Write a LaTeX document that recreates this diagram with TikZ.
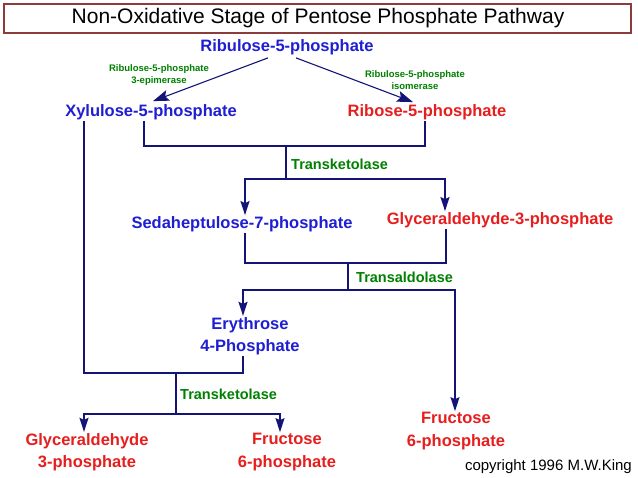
\documentclass[tikz,border=0pt]{standalone}
\usepackage{fontspec}
\setmainfont{Liberation Sans}
\usepackage{tikz}
\usetikzlibrary{arrows.meta}
\definecolor{chemblue}{RGB}{30, 30, 210}
\definecolor{chemred}{RGB}{230, 30, 30}
\definecolor{enzgreen}{RGB}{0, 128, 0}
\definecolor{linknavy}{RGB}{20, 20, 120}
\definecolor{titlebox}{RGB}{140, 60, 60}

\begin{document}
\begin{tikzpicture}[x=1pt, y=-1pt, >={Stealth[length=14pt, width=9pt, inset=2pt]},
  bluelbl/.style={text=chemblue, font=\fontsize{16.5}{22.5}\selectfont\bfseries, align=center, inner sep=1pt},
  redlbl/.style={text=chemred, font=\fontsize{16.5}{22.5}\selectfont\bfseries, align=center, inner sep=1pt},
  enzlbl/.style={text=enzgreen, font=\fontsize{14.5}{17}\selectfont\bfseries, anchor=west, inner sep=0pt},
  smallenz/.style={text=enzgreen, font=\fontsize{9.5}{12.5}\selectfont\bfseries, align=center, inner sep=0pt},
  link/.style={draw=linknavy, line width=1.6pt},
  slant/.style={draw=linknavy, line width=1.1pt, -{Stealth[length=16pt, width=11pt, inset=3pt]}}]
  \useasboundingbox (0,0) rectangle (638,478);
  \fill[white] (0,0) rectangle (638,478);

  % Title
  \draw[titlebox, line width=1.3pt] (4,4) rectangle (631,33);
  \node[font=\fontsize{21}{24}\selectfont] (title) at (318,18) {Non-Oxidative Stage of Pentose Phosphate Pathway};

  % Metabolites
  \node[bluelbl] (rib5p) at (287,47) {Ribulose-5-phosphate};
  \node[bluelbl] (xyl5p) at (151,112) {Xylulose-5-phosphate};
  \node[redlbl] (ribose5p) at (427,112) {Ribose-5-phosphate};
  \node[bluelbl] (sed7p) at (242,224) {Sedaheptulose-7-phosphate};
  \node[redlbl] (gap1) at (500,220) {Glyceraldehyde-3-phosphate};
  \node[bluelbl] (ery4p) at (250,336) {Erythrose\\4-Phosphate};
  \node[redlbl] (gap2) at (87,452) {Glyceraldehyde\\3-phosphate};
  \node[redlbl] (fru6pA) at (287,452) {Fructose\\6-phosphate};
  \node[redlbl] (fru6pB) at (456,431) {Fructose\\6-phosphate};

  % Enzymes
  \node[smallenz] (epim) at (159,75) {Ribulose-5-phosphate\\3-epimerase};
  \node[smallenz] (isom) at (415,80) {Ribulose-5-phosphate\\isomerase};
  \node[enzlbl] (tkA) at (291,164) {Transketolase};
  \node[enzlbl] (tald) at (356,277) {Transaldolase};
  \node[enzlbl] (tkB) at (180,394) {Transketolase};

  % Junctions
  \coordinate (jtkA) at (286,146);
  \coordinate (jtkAb) at (286,179);
  \coordinate (jtald) at (348,263);
  \coordinate (jtaldb) at (348,290);
  \coordinate (jtkB) at (176,373);
  \coordinate (jtkBb) at (176,414);

  % Ribulose split
  \draw[slant] ([xshift=-19pt, yshift=-2pt]rib5p.south) -- ([xshift=2pt, yshift=2pt]xyl5p.north);
  \draw[slant] ([xshift=9pt, yshift=-2pt]rib5p.south) -- ([xshift=-14pt, yshift=1pt]ribose5p.north);

  % First transketolase
  \draw[link] ([xshift=-7pt]xyl5p.south) |- (jtkA) -| ([xshift=-2pt]ribose5p.south);
  \draw[link] (jtkA) -- (jtkAb);
  \draw[link, ->] (jtkAb) -| ([xshift=3pt]sed7p.north);
  \draw[link, ->] (jtkAb) -| ([xshift=-55pt]gap1.north);

  % Transaldolase
  \draw[link] ([xshift=3pt]sed7p.south) |- (jtald) -| ([xshift=-54pt]gap1.south);
  \draw[link] (jtald) -- (jtaldb);
  \draw[link, ->] (jtaldb) -| ([xshift=-7pt]ery4p.north);
  \draw[link, ->] (jtaldb) -| ([xshift=-1pt]fru6pB.north);

  % Second transketolase
  \draw[link] ([xshift=-67pt]xyl5p.south) |- (jtkB) -| ([xshift=-7pt]ery4p.south);
  \draw[link] (jtkB) -- (jtkBb);
  \draw[link, ->] (jtkBb) -| ([xshift=-3pt]gap2.north);
  \draw[link, ->] (jtkBb) -| ([xshift=-7pt]fru6pA.north);

  \node[anchor=east, font=\fontsize{15}{18}\selectfont, inner sep=0pt] (credit) at (632,467) {copyright 1996 M.W.King};
\end{tikzpicture}
\end{document}
